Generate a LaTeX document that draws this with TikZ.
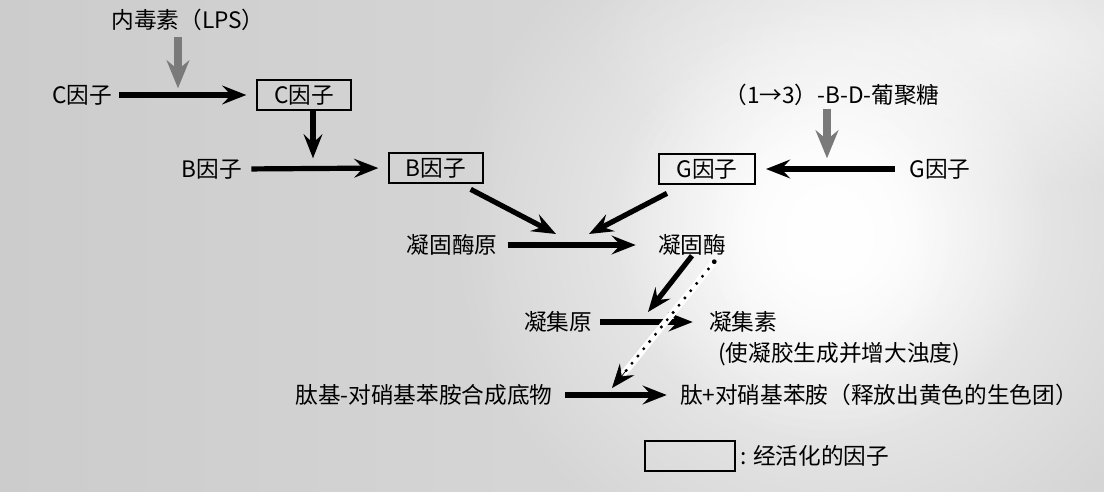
\documentclass[tikz,border=0pt]{standalone}
\usepackage{fontspec}
\setmainfont{Noto Sans CJK SC}
\usetikzlibrary{arrows.meta,calc,fadings}
\definecolor{bg}{HTML}{D5D5D5}
\definecolor{bgdark}{HTML}{CCCCCC}
\definecolor{garrow}{HTML}{7A7A7A}
\tikzfading[name=glowfade, inner color=transparent!0, outer color=transparent!100]
\begin{document}
\begin{tikzpicture}[x=0.75pt,y=-0.75pt,
  txt/.style={inner sep=0pt, font=\fontsize{17}{20}\selectfont},
  fbox/.style={draw=black, line width=1.5pt, minimum width=70pt, minimum height=23pt, inner sep=0pt, font=\fontsize{17}{20}\selectfont},
  arr/.style={line width=3.9pt, -{Stealth[length=18pt,width=14pt,inset=6.5pt]}},
  garr/.style={draw=garrow, line width=6.5pt, -{Stealth[length=21pt,width=17pt,inset=7pt]}},
]
% background
\fill[bg] (0,0) rectangle (1104,492);
\useasboundingbox (0,0) rectangle (1104,492);
\shade[left color=bgdark, right color=bg] (0,0) rectangle (520,492);
\fill[white, opacity=0.6, path fading=glowfade] (1000,40) ellipse [x radius=420, y radius=150];
\fill[white, opacity=0.85, path fading=glowfade] (830,230) ellipse [x radius=380, y radius=360];
\fill[white, path fading=glowfade] (830,225) ellipse [x radius=220, y radius=220];
\fill[white, path fading=glowfade] (830,235) ellipse [x radius=130, y radius=150];

% nodes
\node[txt] (lps) at (188,20) {内毒素（LPS）};
\node[txt] (c1) at (82,95) {C因子};
\node[fbox] (c2) at (304,95) {C因子};
\node[txt] (b1) at (212,169) {B因子};
\node[fbox] (b2) at (436,168) {B因子};
\node[txt] (glu) at (832,95) {（1→3）-B-D-葡聚糖};
\node[fbox, minimum width=72pt] (g2) at (707,169) {G因子};
\node[txt] (g1) at (940,169) {G因子};
\node[txt] (pro) at (452,245) {凝固酶原};
\node[txt] (enz) at (692,245) {凝固酶};
\node[txt] (coag) at (558,322) {凝集原};
\node[txt] (cgl) at (743,322) {凝集素};
\node[txt] (note) at (839,354) {(使凝胶生成并增大浊度)};
\node[txt] (sub) at (424,395) {肽基-对硝基苯胺合成底物};
\node[txt] (prod) at (879,395) {肽+对硝基苯胺（释放出黄色的生色团）};
\node[fbox, minimum width=67pt, minimum height=22pt] (leg) at (690,456) {};
\node[txt, anchor=west] (legt) at (740,456) {: 经活化的因子};

% junction coordinates
\coordinate (j1) at (178,95);
\coordinate (j2) at (313,169);
\coordinate (j4) at (827,169);
\coordinate (ja) at (556,234);
\coordinate (jb) at (589,234);
\coordinate (k1) at (648,312);
\coordinate (k2) at (612,388);
\coordinate (d0) at ($(enz.south east)+(-12,6)$);

% connectors
\draw[arr, shorten <=5pt, shorten >=7.5pt] (c1.east) -- (c2.west);
\draw[garr, shorten <=4.5pt, shorten >=5pt] (lps.south -| j1) -- (j1);
\draw[arr, shorten >=8pt] (c2.south -| j2) -- (j2);
\draw[arr, shorten <=6.75pt, shorten >=7.5pt] (b1.east) -- (b2.west);
\draw[arr] ($(b2.south east)+(-13,5)$) -- (ja);
\draw[arr, shorten <=11pt, shorten >=7.5pt] (g1.west) -- (g2.east);
\draw[garr, shorten <=2pt, shorten >=8pt] (glu.south -| j4) -- (j4);
\draw[arr] ($(g2.south west)+(9,8)$) -- (jb);
\draw[arr, shorten <=7.5pt, shorten >=16.5pt] (pro.east) -- (enz.west);
\draw[arr, shorten <=6pt, shorten >=12pt] (coag.east) -- (cgl.west);
\draw[arr] (enz.south) -- (k1);
\draw[arr, shorten <=9pt, shorten >=9.75pt] (sub.east) -- (prod.west);
% dotted connector
\draw[white, line width=5pt, shorten >=12pt] (d0) -- (k2);
\fill[black] (d0) circle (1.8pt);
\draw[black, line width=2.5pt, line cap=round, dash pattern=on 0pt off 7pt, shorten >=14pt] (d0) -- (k2);
\draw[line width=0.5pt, -{Stealth[length=18pt,width=14pt,inset=6.5pt]}] ($(k2)!18pt!(d0)$) -- (k2);
\end{tikzpicture}
\end{document}
